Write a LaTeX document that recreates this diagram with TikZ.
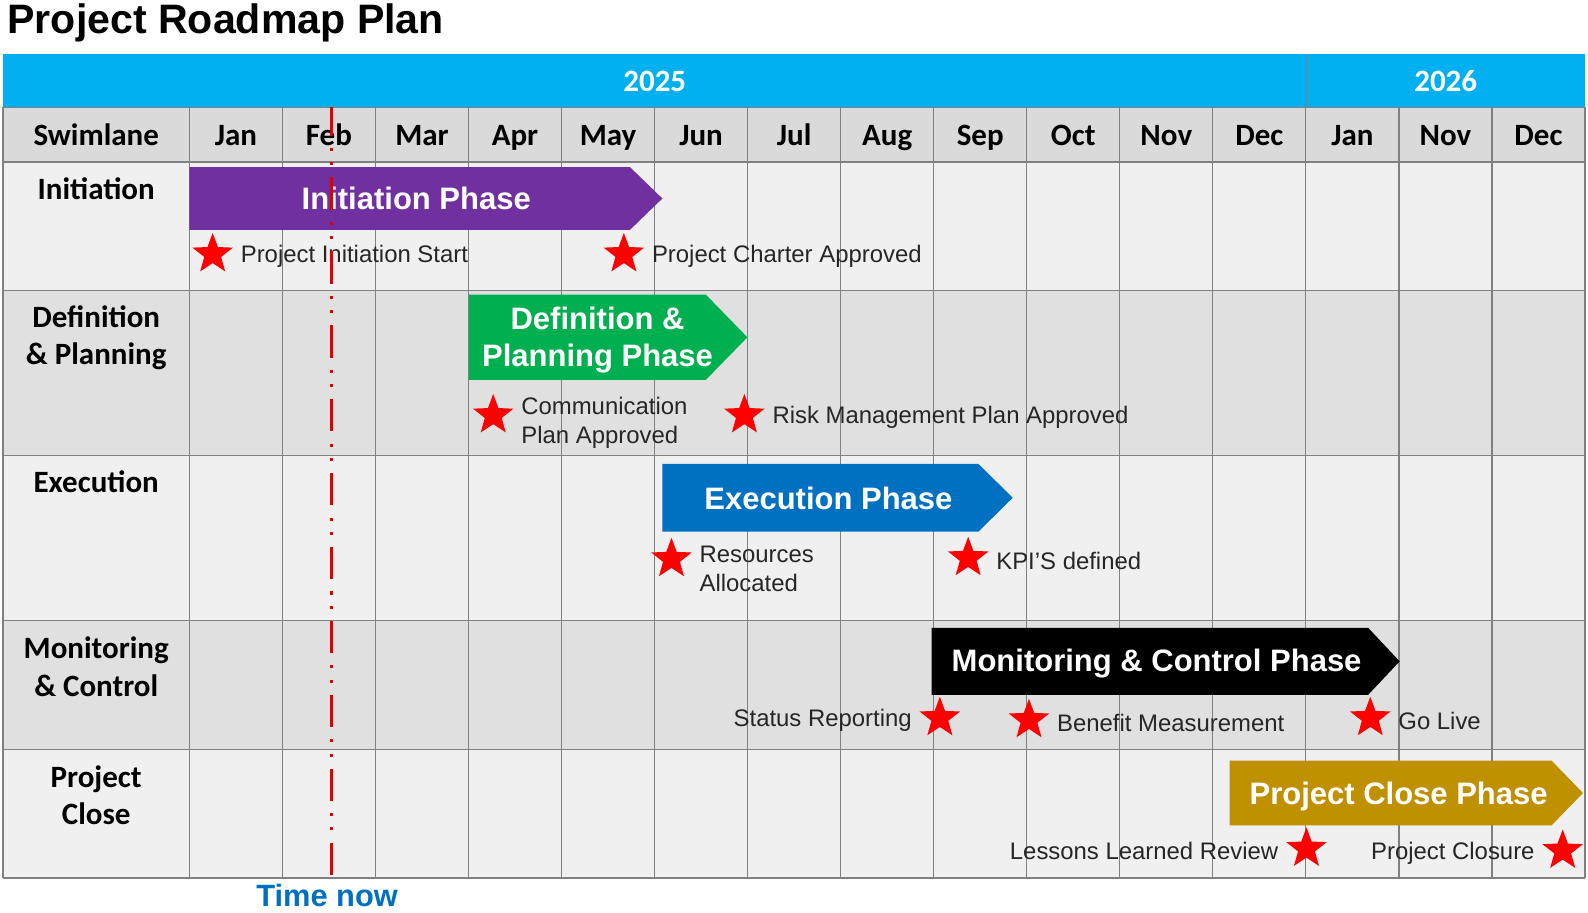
\documentclass[tikz,border=0pt]{standalone}
\usepackage{fontspec}
\setmainfont{Liberation Sans}
\newfontfamily\calibri{Carlito}
\usepackage{xcolor}
\usepackage{tikz}
\usetikzlibrary{positioning, shapes.geometric}

\definecolor{yrblue}{HTML}{00B0F0}
\definecolor{hdrgray}{HTML}{DADADA}
\definecolor{lanelt}{HTML}{F0F0F0}
\definecolor{lanedk}{HTML}{E0E0E0}
\definecolor{gridln}{HTML}{808080}
\definecolor{phpurple}{HTML}{7030A0}
\definecolor{phgreen}{HTML}{00B050}
\definecolor{phblue}{HTML}{0070C0}
\definecolor{phgold}{HTML}{BF9000}
\definecolor{nowred}{HTML}{E00000}
\definecolor{nowblue}{HTML}{0070C0}
\definecolor{msred}{HTML}{FF0000}
\definecolor{mstext}{HTML}{262626}

\begin{document}
\begin{tikzpicture}[
  x=0.5pt, y=-0.5pt,
  every node/.style={inner sep=0pt},
  grid/.style={draw=gridln, line width=0.6pt},
  hdr/.style={font=\calibri\bfseries\fontsize{15.3}{18.5}\selectfont},
  mon/.style={hdr, text height=10.5pt, text depth=3.5pt},
  lane/.style={hdr, align=center},
  yr/.style={hdr, text=white},
  ph/.style={font=\bfseries\fontsize{15.3}{18.5}\selectfont, text=white, align=center},
  ms/.style={star, star points=5, star point ratio=2.4, fill=msred, minimum size=21pt, inner sep=0pt},
  ml/.style={font=\fontsize{11.8}{14.5}\selectfont, text=mstext, align=left, yshift=-1.25pt},
  nowline/.style={nowred, line width=1.5pt, dash pattern=on 16pt off 6pt on 1.5pt off 5.5pt on 1.5pt off 6pt, dash phase=2pt}
]
  \useasboundingbox (0,0) rectangle (1568,901);

  \node[anchor=west, font=\bfseries\fontsize{20.3}{23}\selectfont] (title) at (7,23) {Project Roadmap Plan};

  \fill[yrblue] (3,53) rectangle (1565,106);
  \fill[hdrgray] (3,106) rectangle (1565,160);
  \foreach \ya/\yb/\c in {160/287/lanelt, 287/450/lanedk, 450/613/lanelt, 613/740/lanedk, 740/867/lanelt}
    \fill[\c] (3,\ya) rectangle (1565,\yb);

  \foreach \y in {106,160,287,450,613,740,867}
    \draw[grid] (3,\y) -- (1565,\y);
  \draw[grid] (3,106) -- (3,867);
  \foreach \k in {0,...,15}
    \draw[grid] ({187+91.867*\k},106) -- ({187+91.867*\k},867);
  \draw[grid] (1290,53) -- (1290,106);

  \node[yr] (y2025) at (646.5,80) {2025};
  \node[yr] (y2026) at (1427.5,80) {2026};
  \node[mon] (swim) at (95,137) {Swimlane};
  \foreach \m [count=\i] in {Jan,Feb,Mar,Apr,May,Jun,Jul,Aug,Sep,Oct,Nov,Dec,Jan,Nov,Dec}
    \node[mon] (m\i) at ({187+91.867*(\i-0.5)},137) {\m};

  \node[lane] (ln1) at (95,186) {Initiation};
  \node[lane] (ln2) at (95,333.5) {Definition\\\& Planning};
  \node[lane] (ln3) at (95,476) {Execution};
  \node[lane] (ln4) at (95,658.5) {Monitoring\\\& Control};
  \node[lane] (ln5) at (95,785) {Project\\Close};

  \fill[phpurple] (187,165) -- (622,165) -- (654,196) -- (622,227) -- (187,227) -- cycle;
  \node[ph] (ph1) at (411,196) {Initiation Phase};
  \fill[phgreen] (463,291) -- (697,291) -- (738,333) -- (697,375) -- (463,375) -- cycle;
  \node[ph] (ph2) at (590,336) {Definition \&\\Planning Phase};
  \fill[phblue] (654,458) -- (966,458) -- (1000,491.5) -- (966,525) -- (654,525) -- cycle;
  \node[ph] (ph3) at (818,492) {Execution Phase};
  \fill[black] (920,620) -- (1351,620) -- (1382,653) -- (1351,686) -- (920,686) -- cycle;
  \node[ph] (ph4) at (1142,655) {Monitoring \& Control Phase};
  \fill[phgold] (1214,751) -- (1532,751) -- (1563,783) -- (1532,815) -- (1214,815) -- cycle;
  \node[ph] (ph5) at (1381,786) {Project Close Phase};

  \node[ms] (s1) at (210,251) {};
  \node[ml, right=7.5pt of s1] (l1) {Project Initiation Start};
  \node[ms] (s2) at (616,251) {};
  \node[ml, right=7.5pt of s2] (l2) {Project Charter Approved};
  \node[ms] (s3) at (487,410) {};
  \node[ml, right=7.5pt of s3, yshift=-2.5pt] (l3) {Communication\\Plan Approved};
  \node[ms] (s4) at (735,410) {};
  \node[ml, right=7.5pt of s4] (l4) {Risk Management Plan Approved};
  \node[ms] (s5) at (663,552) {};
  \node[ml, right=7.5pt of s5, yshift=-3.5pt] (l5) {Resources\\Allocated};
  \node[ms] (s6) at (956,551) {};
  \node[ml, right=7.5pt of s6] (l6) {KPI’S defined};
  \node[ms] (s7) at (928,709) {};
  \node[ml, left=7.5pt of s7] (l7) {Status Reporting};
  \node[ms] (s8) at (1016,711) {};
  \node[ml, right=7.5pt of s8] (l8) {Benefit Measurement};
  \node[ms] (s9) at (1353,709) {};
  \node[ml, right=7.5pt of s9] (l9) {Go Live};
  \node[ms] (s10) at (1290,838) {};
  \node[ml, left=7.5pt of s10] (l10) {Lessons Learned Review};
  \node[ms] (s11) at (1543,840) {};
  \node[ml, left=7.5pt of s11] (l11) {Project Closure};

  \coordinate (ttop) at (327,106);
  \coordinate (tbot) at (327,867);
  \draw[nowline] (ttop) -- (tbot);
  \node[font=\bfseries\fontsize{15.2}{18}\selectfont, text=nowblue] (tnow) at (323,884) {Time now};
\end{tikzpicture}
\end{document}
